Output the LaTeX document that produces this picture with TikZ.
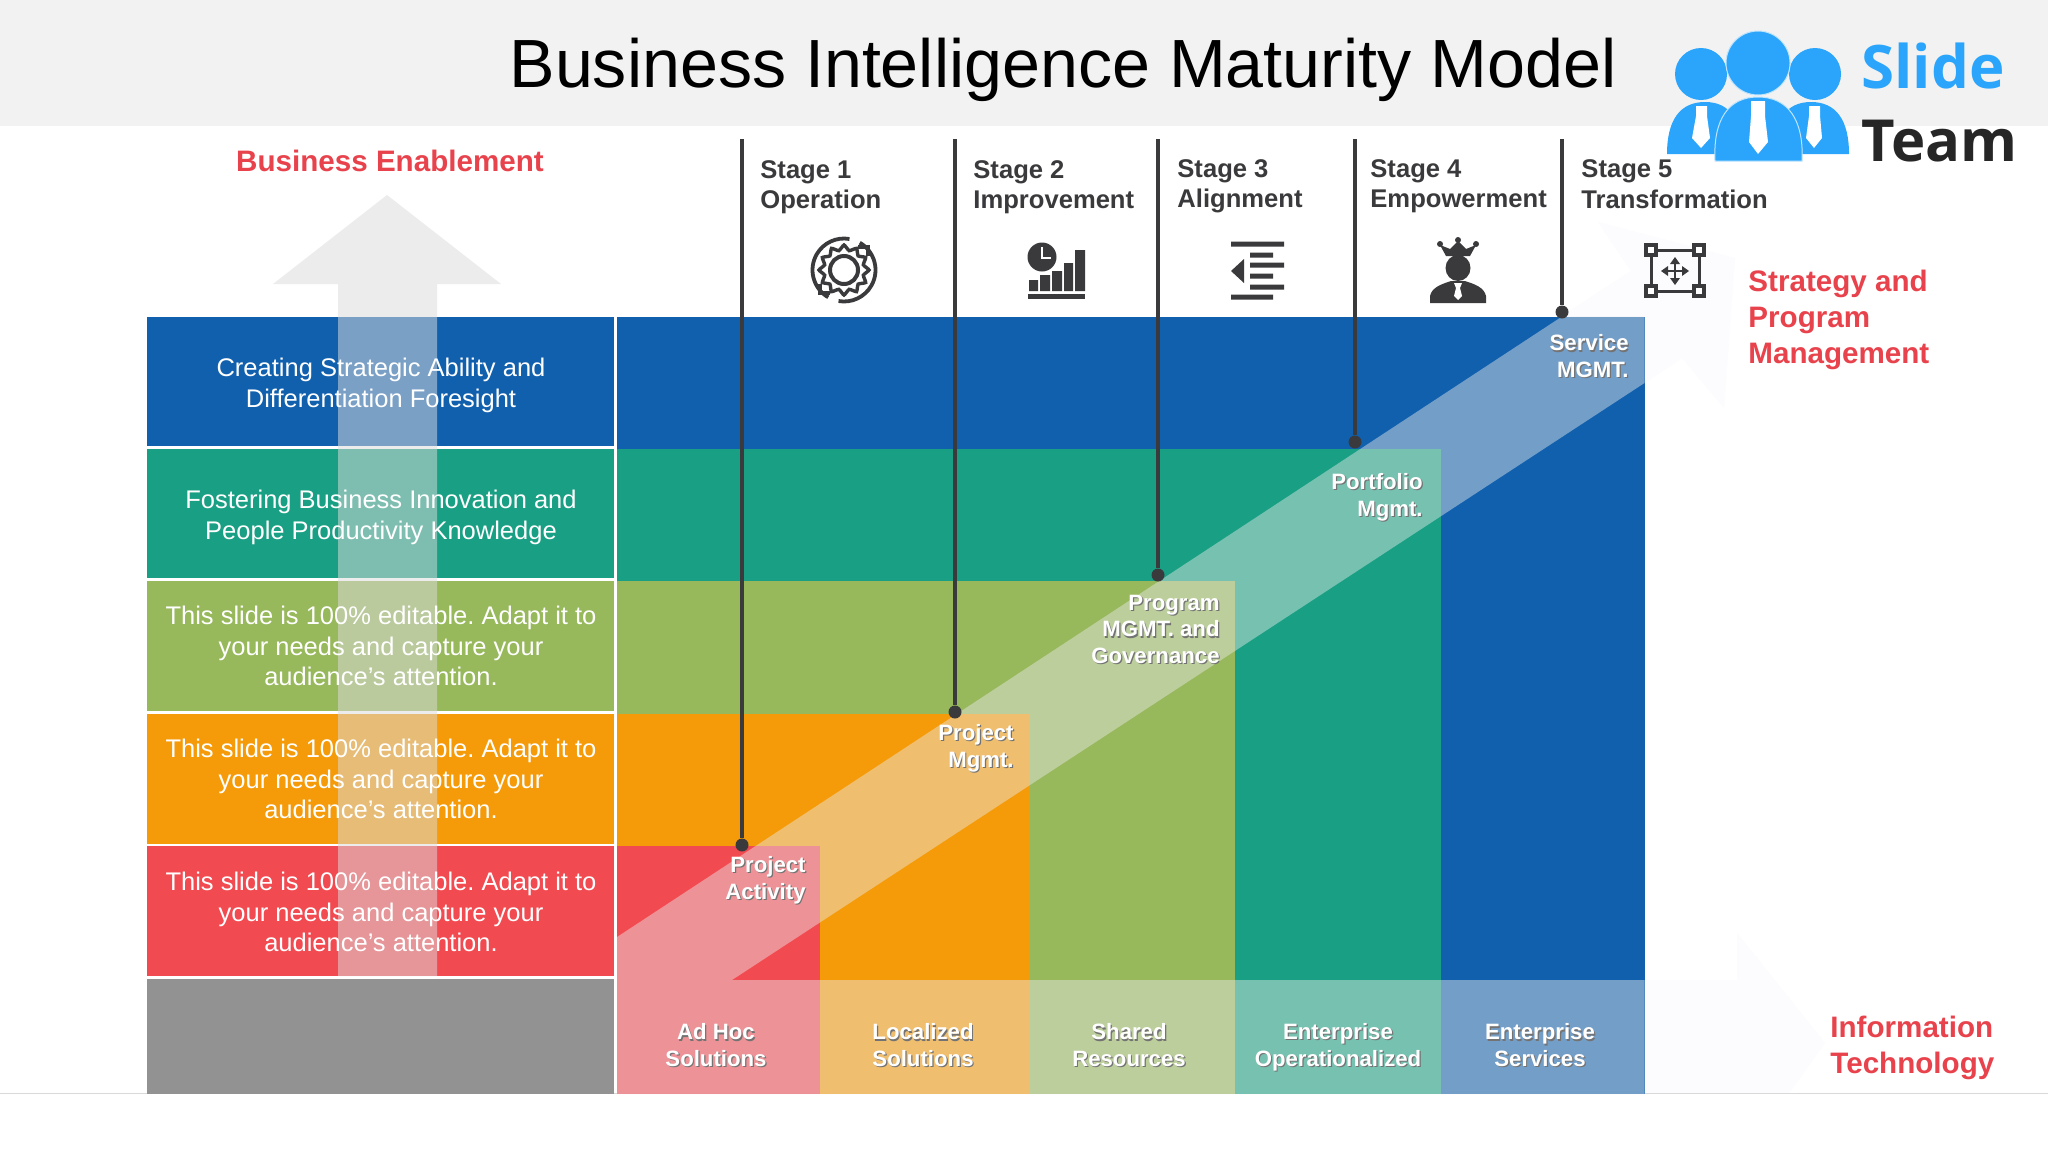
\documentclass[tikz,border=0pt]{standalone}
\usepackage{fontspec}
\setmainfont{Liberation Sans}
\newfontfamily\logofont{Open Sans}
\definecolor{cblue}{HTML}{1160AE}
\definecolor{cteal}{HTML}{19A084}
\definecolor{cgreen}{HTML}{97B85B}
\definecolor{corange}{HTML}{F59B09}
\definecolor{cred}{HTML}{F24A51}
\definecolor{cgray}{HTML}{929292}
\definecolor{chead}{HTML}{E8434C}
\definecolor{cdark}{HTML}{3A3A3C}
\definecolor{clogo}{HTML}{2AA5FB}
\definecolor{cfaint}{HTML}{FCFBFD}
\newcommand{\fs}[2]{\fontsize{#1pt}{#2pt}\selectfont}
\newcommand{\shd}[1]{\leavevmode\rlap{\kern0.6pt\raisebox{-0.6pt}{\textcolor{black!55}{#1}}}#1}
\tikzset{
  px/.style={x=0.5pt,y=-0.5pt},
  leftbox/.style={text=white,align=center,font=\frenchspacing\fs{12.75}{15.4},inner sep=0pt},
  stagetxt/.style={text=cdark,align=left,font=\bfseries\fs{12.8}{15.2},anchor=west,inner sep=0pt},
  redhead/.style={text=chead,font=\bfseries\fs{14.8}{18},inner sep=0pt},
  steplabel/.style={text=white,align=right,font=\bfseries\fs{11.1}{13.4},anchor=east,inner sep=0pt},
  baselabel/.style={text=white,align=center,font=\bfseries\fs{11.1}{13.4},inner sep=0pt},
  stemline/.style={draw=cdark,line width=1.9pt},
  enddot/.style={circle,fill=cdark,minimum size=6.5pt,inner sep=0pt},
}
\begin{document}
\begin{tikzpicture}[px]
\useasboundingbox (0,0) rectangle (2048,1152);
\fill[white] (0,0) rectangle (2048,1152);
\fill[black!5] (0,0) rectangle (2048,126);
% faint arrows
\fill[cfaint] (1562,316)--(1631,271)--(1598,222)--(1735,258)--(1724,408)--(1682,358)--(1644.5,383)--cycle;
\fill[cfaint] (1644.5,980)--(1737,980)--(1737,933)--(1825,1043)--(1789,1093)--(1644.5,1093)--cycle;
\draw[black!15,line width=0.6pt] (0,1093.5)--(2048,1093.5);
% staircase
\fill[cblue] (617,316.5) rectangle (1644.5,1094);
\fill[cteal] (617,449) rectangle (1441,1094);
\fill[cgreen] (617,581) rectangle (1235,1094);
\fill[corange] (617,714) rectangle (1029.5,1094);
\fill[cred] (617,846) rectangle (820,1094);
% left boxes
\fill[cblue] (147,316.5) rectangle (614,446);
\fill[cteal] (147,449) rectangle (614,578);
\fill[cgreen] (147,581) rectangle (614,711);
\fill[corange] (147,714) rectangle (614,844);
\fill[cred] (147,846) rectangle (614,976);
\fill[cgray] (147,978.5) rectangle (614,1093.5);
% vertical arrow
\fill[fill=black!14,fill opacity=0.52] (387,195)--(501,284)--(437,284)--(437,976)--(338,976)--(338,284)--(273,284)--cycle;
% diagonal band + base band
\fill[fill=black!9,fill opacity=0.46] (617,937)--(1562,316.5)--(1644.5,316.5)--(1644.5,383)--(732,980)--(1644.5,980)--(1644.5,1094)--(617,1094)--cycle;
% stage lines
\coordinate (t1) at (742,139); \coordinate (t2) at (955,139); \coordinate (t3) at (1158,139); \coordinate (t4) at (1355,139); \coordinate (t5) at (1562,139);
\node[enddot] (d1) at (742,845) {};
\node[enddot] (d2) at (955,712) {};
\node[enddot] (d3) at (1158,575) {};
\node[enddot] (d4) at (1355,442) {};
\node[enddot] (d5) at (1562,312) {};
\foreach \i in {1,...,5} \draw[stemline] (t\i) -- (d\i);
% title
\node[inner sep=0pt,font=\fs{34.1}{40}] (title) at (1063,70) {Business Intelligence Maturity Model};
% logo
\fill[clogo] (1701,74) circle (26) (1815,74) circle (26);
\fill[clogo] (1667,154) .. controls (1667,120) and (1680,102) .. (1705,102) .. controls (1730,102) and (1742,120) .. (1742,154) -- cycle;
\fill[clogo] (1849,154) .. controls (1849,120) and (1836,102) .. (1811,102) .. controls (1786,102) and (1774,120) .. (1774,154) -- cycle;
\filldraw[fill=clogo,draw=white!70!clogo,line width=0.5pt] (1758,63) circle (32);
\filldraw[fill=clogo,draw=white!70!clogo,line width=0.5pt] (1715,161) .. controls (1713,120) and (1728,97) .. (1758,97) .. controls (1788,97) and (1804,120) .. (1802,161) -- cycle;
\fill[white] (1696,106)--(1707,106)--(1707,116)--(1710,138)--(1701,148)--(1692,138)--(1696,116)--cycle;
\fill[white] (1809,106)--(1820,106)--(1820,116)--(1822,138)--(1814,148)--(1806,138)--(1809,116)--cycle;
\fill[white] (1751,101)--(1765,101)--(1765,116)--(1768,142)--(1758,154)--(1749,142)--(1751,116)--cycle;
\node[anchor=west,inner sep=0pt,text=clogo,font=\logofont\bfseries\fs{30}{30}] (slide) at (1861,66) {Slide};
\node[anchor=west,inner sep=0pt,text=black!85,font=\logofont\bfseries\fs{29}{30}] (team) at (1861,141) {Team};
% headings
\node[redhead] (be) at (390,161) {Business Enablement};
\node[redhead,anchor=west,align=left] (spm) at (1748,320) {Strategy and\\Program\\Management};
\node[redhead,anchor=west,align=left] (it) at (1830,1048) {Information\\Technology};
% stage labels
\node[stagetxt] (s1) at (760,187) {Stage 1\\Operation};
\node[stagetxt] (s2) at (973,187) {Stage 2\\Improvement};
\node[stagetxt] (s3) at (1177,186.5) {Stage 3\\Alignment};
\node[stagetxt] (s4) at (1370,186.5) {Stage 4\\Empowerment};
\node[stagetxt] (s5) at (1581,184) {Stage 5\\Transformation};
% left texts
\node[leftbox] (l1) at (381,385) {Creating Strategic Ability and\\Differentiation Foresight};
\node[leftbox] (l2) at (381,517) {Fostering Business Innovation and\\People Productivity Knowledge};
\node[leftbox] (l3) at (381,646) {This slide is 100\% editable. Adapt it to\\your needs and capture your\\audience's attention.};
\node[leftbox] (l4) at (381,779) {This slide is 100\% editable. Adapt it to\\your needs and capture your\\audience's attention.};
\node[leftbox] (l5) at (381,912) {This slide is 100\% editable. Adapt it to\\your needs and capture your\\audience's attention.};
% step labels
\node[steplabel] (p1) at (806,881) {\shd{Project}\\\shd{Activity}};
\node[steplabel] (p2) at (1014,749) {\shd{Project}\\\shd{Mgmt.}};
\node[steplabel] (p3) at (1220,630) {\shd{Program}\\\shd{MGMT. and}\\\shd{Governance}};
\node[steplabel] (p4) at (1423,498) {\shd{Portfolio}\\\shd{Mgmt.}};
\node[steplabel] (p5) at (1629,357) {\shd{Service}\\\shd{MGMT.}};
% base labels
\node[baselabel] (b1) at (716,1046) {\shd{Ad Hoc}\\\shd{Solutions}};
\node[baselabel] (b2) at (923,1046) {\shd{Localized}\\\shd{Solutions}};
\node[baselabel] (b3) at (1129,1046) {\shd{Shared}\\\shd{Resources}};
\node[baselabel] (b4) at (1338,1048) {\shd{Enterprise}\\\shd{Operationalized}};
\node[baselabel] (b5) at (1540,1046) {\shd{Enterprise}\\\shd{Services}};
% icon 1: gear
\begin{scope}[shift={(844,270)}]
  \draw[draw=cdark,line width=1.9pt] (-60:31.5) arc (-60:100:31.5);
  \draw[draw=cdark,line width=1.9pt] (120:31.5) arc (120:280:31.5);
  \draw[draw=cdark,line width=1.6pt] (24,-14) -- (24,-23) -- (14,-23);
  \draw[draw=cdark,line width=1.6pt] (-24,14) -- (-24,23) -- (-14,23);
  \draw[draw=cdark,line width=1.7pt] plot[smooth cycle,tension=0.3] coordinates {
    (0:25)(15:20)(30:25)(45:20)(60:25)(75:20)(90:25)(105:20)(120:25)(135:20)(150:25)(165:20)
    (180:25)(195:20)(210:25)(225:20)(240:25)(255:20)(270:25)(285:20)(300:25)(315:20)(330:25)(345:20)};
  \draw[draw=cdark,line width=2pt] (0,0) circle (14);
\end{scope}
% icon 2: clock and bars
\fill[cdark] (1042,257) circle (14.5);
\draw[white,line width=0.7pt] (1042,247)--(1042,258)--(1051,258);
\fill[cdark] (1029,280) rectangle (1038,291) (1040,275) rectangle (1050,291) (1052,271) rectangle (1062,291) (1064,263) rectangle (1073,291) (1075,250) rectangle (1085,291);
\fill[cdark] (1028,293.5) rectangle (1085,298.5);
% icon 3: indent
\fill[cdark] (1231,241.5) rectangle (1284,246.5) (1250,252.5) rectangle (1273,257.5) (1250,262.5) rectangle (1284,267.5) (1250,273.5) rectangle (1273,278.5) (1250,284.5) rectangle (1284,289.5) (1231,294.5) rectangle (1273,299.5);
\fill[cdark] (1231,271)--(1244,259)--(1244,283)--cycle;
% icon 4: person with crown
\fill[cdark] (1458,268) ellipse (12.5 and 13);
\fill[cdark] (1430,303)--(1430,296) .. controls (1432,287) and (1442,284) .. (1451,281)--(1465,281) .. controls (1474,284) and (1484,287) .. (1486,296)--(1486,303)--cycle;
\fill[white] (1454,283)--(1462,283)--(1460,288)--(1462,296)--(1458,300)--(1454,296)--(1456,288)--cycle;
\fill[cdark] (1446,256)--(1440,245)--(1450,249)--(1458,241)--(1466,249)--(1476,245)--(1470,256)--cycle;
\fill[cdark] (1440,244) circle (3) (1458,240) circle (3) (1476,244) circle (3);
% icon 5: frame
\draw[draw=cdark,line width=1.5pt] (1651,250) rectangle (1699,291);
\foreach \hx/\hy in {1651/250,1699/250,1651/291,1699/291}
  \filldraw[fill=white,draw=cdark,line width=1.8pt] (\hx-5,\hy-5) rectangle (\hx+5,\hy+5);
\draw[draw=cdark,line width=1.1pt] (1675,261)--(1675,281) (1663,271)--(1687,271);
\fill[cdark] (1675,257)--(1680,264)--(1670,264)--cycle (1675,285)--(1680,278)--(1670,278)--cycle (1661,271)--(1668,266)--(1668,276)--cycle (1689,271)--(1682,266)--(1682,276)--cycle;
\end{tikzpicture}
\end{document}
